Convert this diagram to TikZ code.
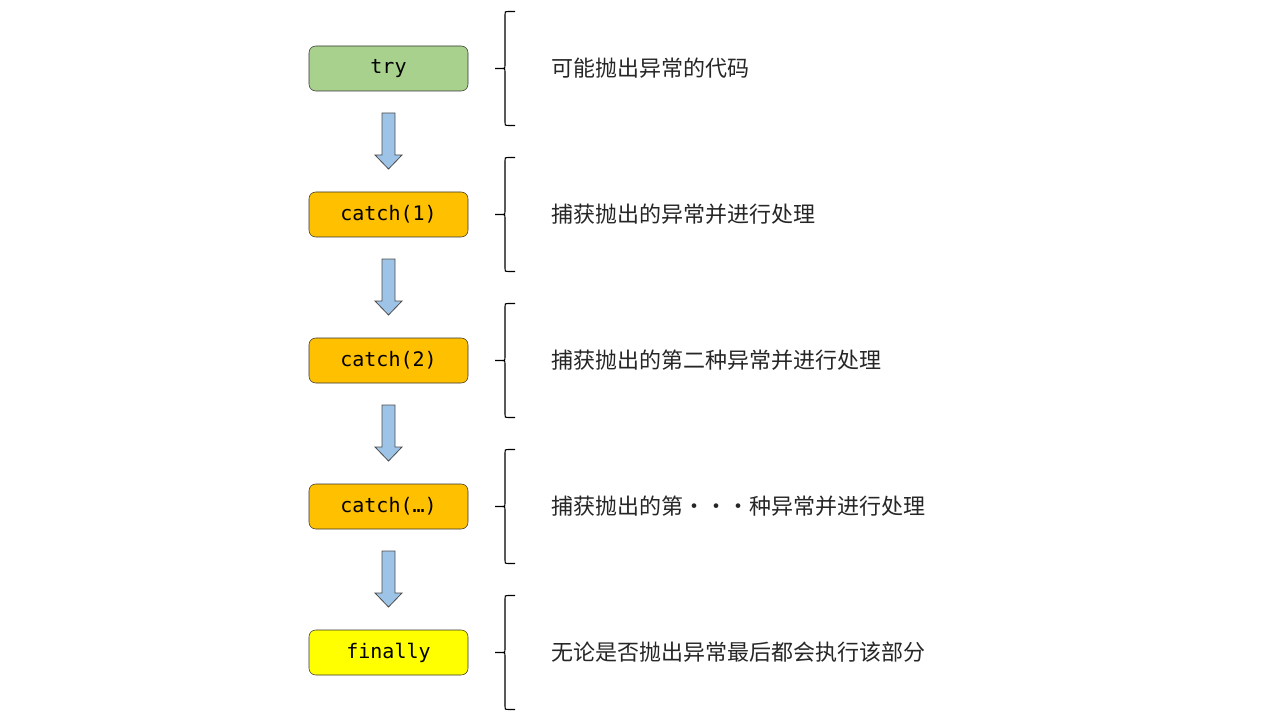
\documentclass[tikz,border=0pt]{standalone}
\usepackage{fontspec}
\setmainfont{Noto Sans CJK SC}
\newfontfamily\monof{DejaVu Sans Mono}
\begin{document}
\begin{tikzpicture}[x=0.75pt,y=-0.75pt,
  box/.style={draw=black!80,rounded corners=5pt,minimum width=159*0.75pt,minimum height=45*0.75pt,inner sep=0pt,font=\monof\fontsize{15}{15}\selectfont},
  desc/.style={anchor=west,font=\fontsize{16.5}{18}\selectfont,text=black!85,inner sep=0pt},
  barr/.style={fill=arrblue,draw=black!70,line width=0.6pt},
  brace/.style={draw=black,line width=0.8pt}]
\definecolor{trygreen}{HTML}{A9D18E}
\definecolor{catchor}{HTML}{FFC000}
\definecolor{finy}{HTML}{FFFF00}
\definecolor{arrblue}{HTML}{9DC3E6}
\useasboundingbox (0,0) rectangle (1280,720);
\node[box,fill=trygreen] (b1) at (388.5,68.5) {try};
\node[box,fill=catchor] (b2) at (388.5,214.5) {catch(1)};
\node[box,fill=catchor] (b3) at (388.5,360.5) {catch(2)};
\node[box,fill=catchor] (b4) at (388.5,506.5) {catch(…)};
\node[box,fill=finy] (b5) at (388.5,652.5) {finally};
\foreach \y/\t [count=\i] in {68.5/可能抛出异常的代码,214.5/捕获抛出的异常并进行处理,360.5/捕获抛出的第二种异常并进行处理,506.5/捕获抛出的第•••种异常并进行处理,652.5/无论是否抛出异常最后都会执行该部分}{
  \node[desc] (d\i) at (551,\y) {\t};
  \draw[brace] (515,\y-57) -- (508,\y-57) .. controls (505,\y-57) .. (505,\y-54) -- (505,\y-3) .. controls (505,\y) .. (502,\y) -- (495,\y)
    (502,\y) .. controls (505,\y) .. (505,\y+3) -- (505,\y+54) .. controls (505,\y+57) .. (508,\y+57) -- (515,\y+57);
}
\foreach \y in {113,259,405,551}{
  \draw[barr] (382,\y) -- (395,\y) -- (395,\y+42) -- (402,\y+42) -- (388.5,\y+56) -- (375,\y+42) -- (382,\y+42) -- cycle;
}
\end{tikzpicture}
\end{document}
